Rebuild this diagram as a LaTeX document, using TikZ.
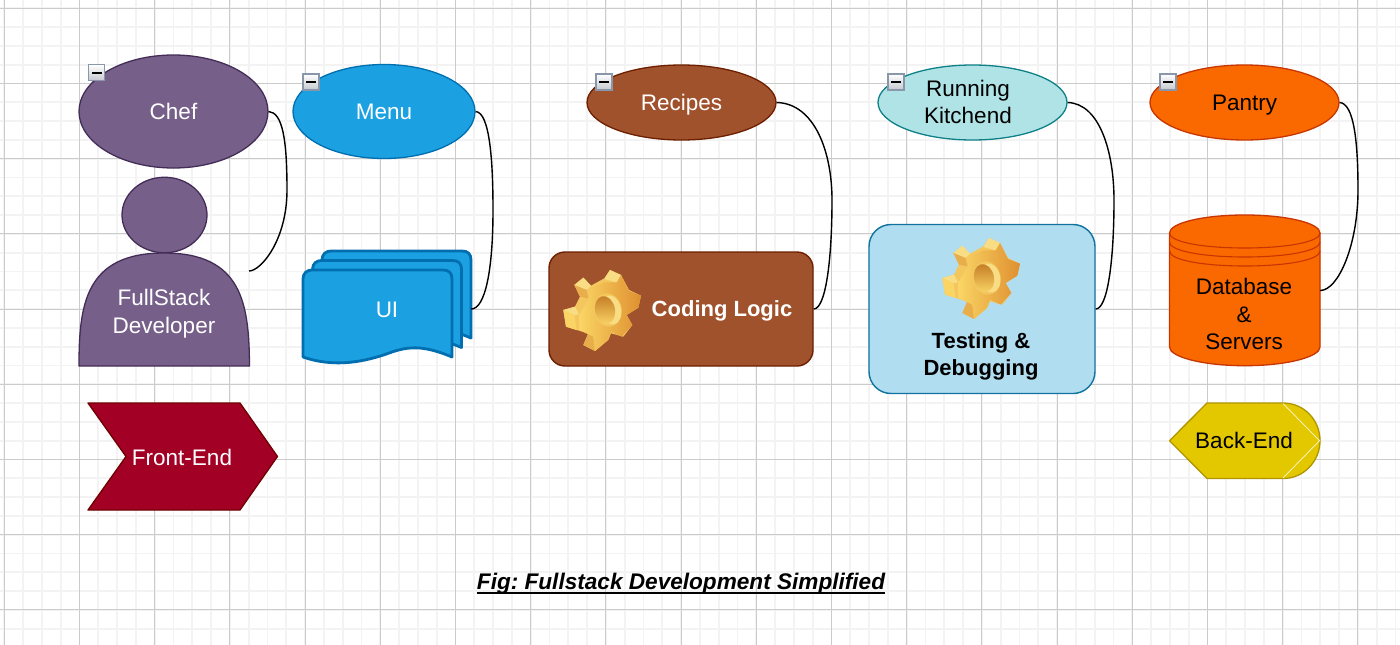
\documentclass[tikz,border=0pt]{standalone}
\usepackage{fontspec}
\setmainfont{Liberation Sans}
\frenchspacing
\usetikzlibrary{shapes.geometric}
\definecolor{purpF}{HTML}{76608A}\definecolor{purpS}{HTML}{432D57}
\definecolor{blueF}{HTML}{1BA1E2}\definecolor{blueS}{HTML}{006EAF}
\definecolor{brownF}{HTML}{A0522D}\definecolor{brownS}{HTML}{6D1F00}
\definecolor{tealF}{HTML}{B0E3E6}\definecolor{tealS}{HTML}{0E8088}
\definecolor{orangeF}{HTML}{FA6800}\definecolor{orangeS}{HTML}{C73500}
\definecolor{crimF}{HTML}{A20025}\definecolor{crimS}{HTML}{6F0000}
\definecolor{yelF}{HTML}{E3C800}\definecolor{yelS}{HTML}{B09500}
\definecolor{skyF}{HTML}{B1DDF0}\definecolor{skyS}{HTML}{10739E}
\definecolor{gridA}{HTML}{CBCBCB}\definecolor{gridB}{HTML}{F3F3F3}
\definecolor{iconS}{HTML}{8A97AB}\definecolor{iconB}{HTML}{C4C8CE}
\definecolor{gearL}{HTML}{F9DD85}\definecolor{gearM}{HTML}{F4C75E}\definecolor{gearD}{HTML}{DF9030}
\definecolor{gearY}{HTML}{FAD565}\definecolor{gearS}{HTML}{E8AE4C}\definecolor{gearH}{HTML}{C67F28}
\tikzset{
  lab/.style={font=\fontsize{22.5}{27.5}\selectfont,align=center,inner sep=0pt},
  labw/.style={lab,text=white},
  one/.style={text height=16pt,text depth=0pt},
  labb/.style={lab,font=\fontsize{22}{27.5}\selectfont\bfseries},
  oval/.style={ellipse,draw,line width=1.3pt,inner sep=0pt,minimum width=#1},
  solid shape/.style={line width=1.3pt,line join=round},
  link/.style={draw=black,line width=1.4pt},
  box/.style={rectangle,draw,line width=1.4pt,inner sep=0pt},
  anchorbox/.style={rectangle,inner sep=0pt},
}
\newcommand{\collapseicon}[1]{%
  \begin{scope}[shift={#1}]
    \draw[draw=iconS,line width=1.8pt,top color=white,bottom color=iconB] (0,0) rectangle (16,16);
    \fill[black] (3,7) rectangle (13,9);
  \end{scope}}
\newcommand{\gearart}[1]{%
  \begin{scope}[shift={#1},x=.3333pt,y=-.3333pt]
    \fill[gearM]
      (58,60)--(85,38)--(108,62)--(148,40)--(165,15)--(198,30)--(222,75)--(258,92)--(250,128)--(215,150)
      --(232,180)--(205,215)--(168,205)--(160,225)--(120,258)--(85,240)--(100,205)--(65,195)--(33,185)
      --(25,135)--(60,125)--(75,95)--cycle;
    \fill[gearL] (58,60)--(85,38)--(108,62)--(95,75)--cycle
      (148,42)--(165,15)--(198,30)--(185,52)--cycle
      (25,135)--(60,125)--(72,148)--(58,150)--cycle;
    \fill[gearS] (85,240)--(100,205)--(115,215)--(120,258)--cycle
      (58,60)--(95,75)--(100,100)--(75,95)--cycle;
    \fill[gearY] (25,135)--(58,150)--(65,195)--(33,185)--cycle;
    \shade[left color=gearY,right color=gearD,shading angle=90]
      (105,72)--(148,52)--(185,52)--(198,30)--(222,78)--(258,92)--(250,128)--(215,150)--(232,180)
      --(200,215)--(168,200)--(158,225)--(120,258)--(115,215)--(72,195)--(72,150)--(102,100)--cycle;
    \fill[gearM,rotate around={12:(158,135)}] (158,135) ellipse (42 and 50);
    \fill[gearL,rotate around={12:(168,135)}] (168,135) ellipse (30 and 44);
    \shade[top color=gearH,bottom color=gearY,rotate around={12:(150,135)}] (150,135) ellipse (30 and 42);
  \end{scope}}
\begin{document}
\begin{tikzpicture}[x=1pt,y=-1pt]
\useasboundingbox (0,0) rectangle (1400,645);
\fill[white] (0,0) rectangle (1400,645);
% grid
\foreach \k in {0,...,75}{\draw[gridB,line width=1.8pt] ({4.2+18.8*\k},0) -- ++(0,645);}
\foreach \k in {0,...,35}{\draw[gridB,line width=1.8pt] (0,{8.2+18.8*\k}) -- ++(1400,0);}
\foreach \k in {0,...,18}{\draw[gridA,line width=1pt] ({4.2+75.2*\k},0) -- ++(0,645);}
\foreach \k in {0,...,8}{\draw[gridA,line width=1pt] (0,{8.2+75.2*\k}) -- ++(1400,0);}

% ---- Chef column
\node[oval=189pt,minimum height=113pt,draw=purpS,fill=purpF,labw,one] (chef) at (173.5,111.5) {Chef};
\node[ellipse,minimum width=85pt,minimum height=75.5pt,inner sep=0pt,draw=purpS,fill=purpF,line width=1.3pt] (head) at (164.5,215) {};
\draw[solid shape,draw=purpS,fill=purpF] (79,366) .. controls (79,305) and (85,253) .. (164,253)
  .. controls (243,253) and (249,305) .. (249.5,366) -- cycle;
\node[labw] (dev) at (164,313.5) {FullStack\\Developer};
\coordinate (devport) at (249,271);
\coordinate (chefmid) at (287,190);
\draw[link] (chef.east) .. controls +(14,1) and +(0,-50) .. (chefmid) .. controls +(0,50) and +(12,0) .. (devport);
\draw[solid shape,draw=crimS,fill=crimF] (88,403) -- (240,403) -- (277.5,456.5) -- (240,510) -- (88,510) -- (126,456.5) -- cycle;
\node[labw,one] (front) at (182,457) {Front-End};

% ---- Menu column
\node[oval=182pt,minimum height=94pt,draw=blueS,fill=blueF,labw,one] (menu) at (384,111.5) {Menu};
\foreach \dx/\dy in {19/-19,9.5/-9.5,0/0}{
  \filldraw[shift={(\dx,\dy)},line width=2.8pt,line join=round,draw=blueS,fill=blueF]
    (303,357) -- (303,279) .. controls (303,273) and (307,270) .. (312,270) -- (443,270)
    .. controls (449,270) and (452,273) .. (452,279) -- (452,357)
    .. controls (428,347) and (412,345) .. (392,352) .. controls (365,362) and (335,368) .. (303,357) -- cycle;
}
\node[anchorbox,minimum width=168pt,minimum height=112pt,labw,one] (ui) at (387,309) {UI};
\coordinate (menumid) at (493,210);
\draw[link] (menu.east) .. controls +(14,1) and +(0,-50) .. (menumid) .. controls +(0,60) and +(14,0) .. (ui.east);

% ---- Recipes column
\node[oval=189pt,minimum height=75pt,draw=brownS,fill=brownF,labw,one] (recipes) at (681.5,102.5) {Recipes};
\node[box,rounded corners=16pt,minimum width=264pt,minimum height=114pt,draw=brownS,fill=brownF] (coding) at (681,309) {};
\gearart{(555,265)}
\node[labb,text=white,one] (codingtxt) at (722,308.5) {Coding Logic};
\coordinate (recmid) at (832,200);
\draw[link] (recipes.east) .. controls +(38,1) and +(0,-48) .. (recmid) .. controls +(0,60) and +(12,0) .. (coding.east);

% ---- Kitchen column
\node[oval=189pt,minimum height=75pt,draw=tealS,fill=tealF] (kitchen) at (972.5,102.5) {};
\node[lab] (kitchentxt) at (968,102) {Running\\Kitchend};
\node[box,rounded corners=22pt,minimum width=226pt,minimum height=169pt,draw=skyS,fill=skyF] (testing) at (982,309) {};
\gearart{(934,233)}
\node[labb] (testingtxt) at (981,356.5) {Testing \&\\Debugging};
\coordinate (kitmid) at (1114,200);
\draw[link] (kitchen.east) .. controls +(32,1) and +(0,-48) .. (kitmid) .. controls +(0,60) and +(12,0) .. (testing.east);

% ---- Pantry column
\node[oval=189pt,minimum height=75pt,draw=orangeS,fill=orangeF,lab,one] (pantry) at (1244.5,102.5) {Pantry};
\draw[solid shape,draw=orangeS,fill=orangeF] (1169.5,233) .. controls (1169.5,223) and (1203,215) .. (1244.75,215)
  .. controls (1286.5,215) and (1320,223) .. (1320,233) -- (1320,347)
  .. controls (1320,357) and (1286.5,365.7) .. (1244.75,365.7) .. controls (1203,365.7) and (1169.5,357) .. (1169.5,347) -- cycle;
\foreach \k in {0,9,18}{
  \draw[line width=1.1pt,draw=orangeS] (1169.5,233+\k) .. controls (1169.5,242+\k) and (1203,248+\k) .. (1244.75,248+\k)
    .. controls (1286.5,248+\k) and (1320,242+\k) .. (1320,233+\k);
}
\node[anchorbox,minimum width=150.5pt,minimum height=1pt] (dbport) at (1244.75,290.5) {};
\node[lab] (db) at (1244,314) {Database\\\&\\Servers};
\coordinate (panmid) at (1358,190);
\draw[link] (pantry.east) .. controls +(14,1) and +(0,-50) .. (panmid) .. controls +(0,55) and +(18,0) .. (dbport.east);
\draw[solid shape,draw=yelS,fill=yelF] (1169.5,440.7) -- (1207,403) -- (1283,403) .. controls (1304,403) and (1320,420) .. (1320,440.7)
  .. controls (1320,461) and (1304,478.5) .. (1283,478.5) -- (1207,478.5) -- cycle;
\draw[white!85!yelF,line width=.7pt] (1283,403.5) -- (1319.5,440.7) -- (1283,478);
\node[lab,one] (back) at (1244,440.5) {Back-End};

% ---- collapse icons
\collapseicon{(88.5,64.5)}
\collapseicon{(303.3,74)}
\collapseicon{(596,74)}
\collapseicon{(888,74)}
\collapseicon{(1160,74)}

% ---- caption
\node[inner sep=0pt,font=\fontsize{22.6}{27}\selectfont\bfseries\itshape] (caption) at (681,584) {Fig: Fullstack Development Simplified};
\draw[line width=1.6pt] ([yshift=-3pt]caption.base west) -- ([yshift=-3pt]caption.base east);
\end{tikzpicture}
\end{document}
